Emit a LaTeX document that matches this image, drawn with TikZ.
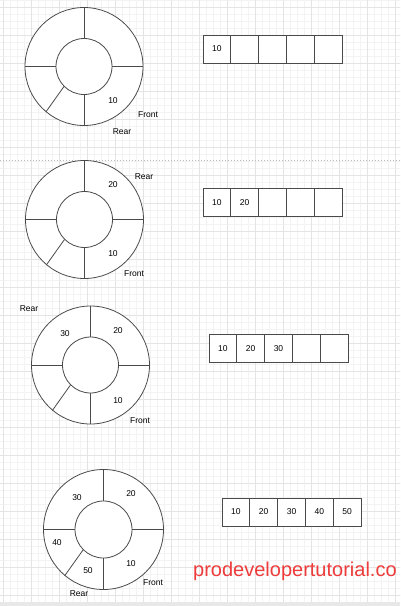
\documentclass[tikz,border=0pt]{standalone}
\usepackage{fontspec}
\setmainfont{Liberation Sans}
\definecolor{ringline}{HTML}{4A4A4A}
\definecolor{gridminor}{HTML}{F3F3F3}
\definecolor{gridmajor}{HTML}{E4E4E4}
\definecolor{markred}{HTML}{EE3B3B}
\tikzset{
    ring/.style={draw=ringline, line width=0.8pt, circle, fill=white, inner sep=0pt, minimum size=118pt},
    hole/.style={draw=ringline, line width=0.8pt, circle, fill=white, inner sep=0pt, minimum size=56pt},
    spoke/.style={draw=ringline, line width=0.8pt},
    cell/.style={draw=ringline, line width=0.8pt, fill=white, inner sep=0pt, minimum width=27.8pt, minimum height=28pt, font=\fontsize{8.5}{10}\selectfont},
    lbl/.style={inner sep=0pt, font=\fontsize{8.5}{10}\selectfont}
}
\begin{document}
\begin{tikzpicture}[x=1pt, y=-1pt]
    \useasboundingbox (0, 0) rectangle (400, 606);
    \clip (0, 0) rectangle (400, 606);
    \fill[white] (0, 0) rectangle (400, 606);
    % background grid (in canvas pt, y upward)
    \draw[gridminor, line width=0.5pt, xshift=3pt] (-7pt, -613pt) grid[step=7pt] (406pt, 7pt);
    \draw[gridmajor, line width=0.6pt, xshift=3pt, yshift=-7pt] (-28pt, -620pt) grid[step=28pt] (420pt, 28pt);
    \draw[dashed, dash pattern=on 1.2pt off 1.8pt, gray!55] (0, 160) -- (400, 160);
    \fill[gray!18] (0, 602) rectangle (400, 606);

    % first queue: 10
    \node[ring] (O1) at (84, 66.5) {};
    \node[hole] (I1) at (84, 66.5) {};
    \draw[spoke] (I1.90) -- (O1.90);
    \draw[spoke] (I1.0) -- (O1.0);
    \draw[spoke] (I1.180) -- (O1.180);
    \draw[spoke] (I1.270) -- (O1.270);
    \draw[spoke] (I1.225) -- (O1.230);
    \node[lbl] (t1a) at (113, 101) {10};
    \node[lbl] (f1) at (148, 115) {Front};
    \node[lbl] (r1) at (122, 132) {Rear};

    \node[cell] (A1) at (216.9, 49) {10};
    \node[cell] (B1) at (244.7, 49) {};
    \node[cell] (C1) at (272.5, 49) {};
    \node[cell] (D1) at (300.3, 49) {};
    \node[cell] (E1) at (328.1, 49) {};

    % second queue: 10 20
    \node[ring] (O2) at (84.5, 219.5) {};
    \node[hole] (I2) at (84.5, 219.5) {};
    \draw[spoke] (I2.90) -- (O2.90);
    \draw[spoke] (I2.0) -- (O2.0);
    \draw[spoke] (I2.180) -- (O2.180);
    \draw[spoke] (I2.270) -- (O2.270);
    \draw[spoke] (I2.225) -- (O2.230);
    \node[lbl] (t2b) at (113, 185) {20};
    \node[lbl] (r2) at (144, 177) {Rear};
    \node[lbl] (t2a) at (113, 254) {10};
    \node[lbl] (f2) at (134, 274) {Front};

    \node[cell] (A2) at (216.9, 202.5) {10};
    \node[cell] (B2) at (244.7, 202.5) {20};
    \node[cell] (C2) at (272.5, 202.5) {};
    \node[cell] (D2) at (300.3, 202.5) {};
    \node[cell] (E2) at (328.1, 202.5) {};

    % third queue: 10 20 30
    \node[ring] (O3) at (90.5, 365) {};
    \node[hole] (I3) at (90.5, 365) {};
    \draw[spoke] (I3.90) -- (O3.90);
    \draw[spoke] (I3.0) -- (O3.0);
    \draw[spoke] (I3.180) -- (O3.180);
    \draw[spoke] (I3.270) -- (O3.270);
    \draw[spoke] (I3.225) -- (O3.230);
    \node[lbl] (r3) at (29, 309) {Rear};
    \node[lbl] (t3c) at (65, 334) {30};
    \node[lbl] (t3b) at (118, 331) {20};
    \node[lbl] (t3a) at (118, 401) {10};
    \node[lbl] (f3) at (140, 421) {Front};

    \node[cell] (A3) at (222.9, 348.5) {10};
    \node[cell] (B3) at (250.7, 348.5) {20};
    \node[cell] (C3) at (278.5, 348.5) {30};
    \node[cell] (D3) at (306.3, 348.5) {};
    \node[cell] (E3) at (334.1, 348.5) {};

    % fourth queue: full
    \node[ring, minimum size=120pt] (O4) at (103.5, 529.5) {};
    \node[hole, minimum size=57pt] (I4) at (103.5, 529.5) {};
    \draw[spoke] (I4.90) -- (O4.90);
    \draw[spoke] (I4.0) -- (O4.0);
    \draw[spoke] (I4.180) -- (O4.180);
    \draw[spoke] (I4.270) -- (O4.270);
    \draw[spoke] (I4.225) -- (O4.230);
    \node[lbl] (t4c) at (77, 498) {30};
    \node[lbl] (t4b) at (131, 494) {20};
    \node[lbl] (t4d) at (57, 543) {40};
    \node[lbl] (t4e) at (88, 571) {50};
    \node[lbl] (t4a) at (131, 564) {10};
    \node[lbl] (f4) at (153, 583) {Front};
    \node[lbl] (r4) at (79, 594) {Rear};

    \node[cell] (A4) at (235.9, 512) {10};
    \node[cell] (B4) at (263.7, 512) {20};
    \node[cell] (C4) at (291.5, 512) {30};
    \node[cell] (D4) at (319.3, 512) {40};
    \node[cell] (E4) at (347.1, 512) {50};

    \node[anchor=base west, inner sep=0pt, text=markred, font=\fontsize{20}{24}\selectfont] (site) at (193, 576) {prodevelopertutorial.co};
\end{tikzpicture}
\end{document}
